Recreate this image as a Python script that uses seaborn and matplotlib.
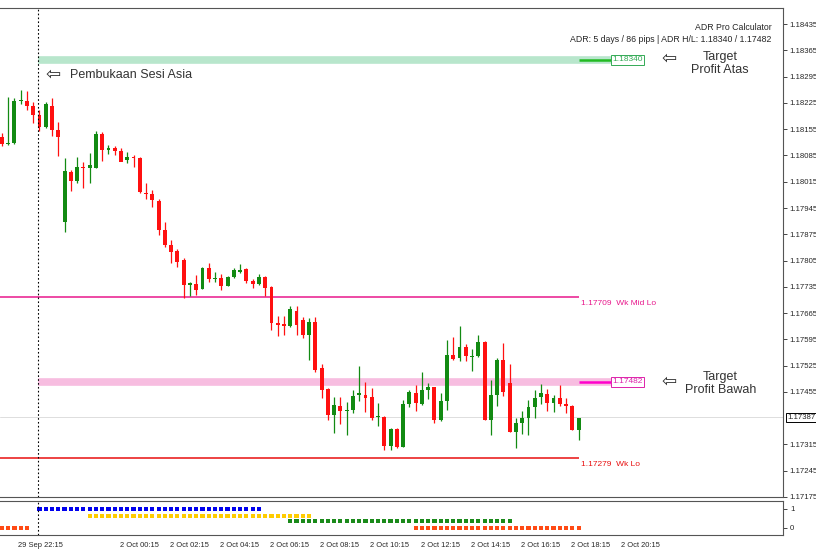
import numpy as np
import pandas as pd
import matplotlib
matplotlib.use("Agg")
import matplotlib.pyplot as plt
import seaborn as sns

# ---- data (prices in 1e-5 units) ----
opens = [118134,118115,118118,118230,118230,118217,118193,118161,118217,118153,
         117908,118041,118017,118054,118051,118051,118142,118099,118105,118097,
         118073,118081,118078,117985,117982,117964,117886,117846,117830,117806,
         117740,117742,117729,117785,117756,117759,117737,117761,117775,117782,
         117750,117742,117761,117734,117639,117636,117631,117671,117646,117607,
         117641,117519,117463,117394,117417,117404,117407,117447,117447,117441,
         117388,117388,117311,117356,117308,117423,117452,117423,117460,117468,
         117380,117431,117553,117545,117575,117548,117551,117588,117380,117447,
         117540,117479,117348,117372,117385,117415,117441,117449,117425,117439,
         117423,117417,117353]
highs = [118145,118241,118238,118259,118257,118227,118206,118227,118238,118174,
         118078,118046,118081,118067,118091,118150,118147,118113,118110,118105,
         118094,118086,118081,118012,117993,117969,117908,117860,117836,117812,
         117748,117766,117788,117798,117775,117769,117764,117785,117796,117785,
         117756,117769,117764,117737,117657,117657,117684,117684,117655,117652,
         117655,117529,117465,117441,117441,117428,117460,117524,117481,117465,
         117425,117391,117359,117359,117433,117460,117473,117508,117479,117468,
         117452,117593,117601,117631,117583,117569,117607,117591,117487,117545,
         117585,117529,117385,117404,117433,117460,117476,117463,117447,117473,
         117439,117420,117385]
lows = [118110,118113,118115,118222,118206,118172,118150,118158,118137,118083,
        117881,117990,118012,117998,118012,118051,118070,118089,118086,118070,
        118065,118054,117985,117969,117948,117873,117841,117798,117788,117706,
        117711,117714,117729,117748,117748,117726,117737,117759,117772,117745,
        117732,117740,117711,117620,117604,117607,117628,117607,117599,117540,
        117508,117439,117380,117346,117369,117340,117399,117431,117401,117380,
        117364,117300,117300,117305,117308,117415,117404,117420,117436,117372,
        117377,117407,117540,117537,117537,117511,117548,117380,117340,117417,
        117444,117348,117305,117343,117340,117385,117423,117404,117401,117417,
        117399,117353,117327]
closes = [118115,118118,118230,118233,118217,118193,118161,118222,118153,118134,
          118043,118017,118054,118051,118059,118142,118099,118105,118097,118067,
          118081,118078,117987,117982,117966,117886,117846,117828,117801,117740,
          117745,117726,117785,117756,117759,117737,117761,117780,117780,117750,
          117742,117761,117732,117639,117633,117631,117676,117633,117607,117641,
          117513,117460,117394,117420,117404,117407,117444,117452,117439,117385,
          117391,117311,117356,117308,117423,117455,117425,117460,117468,117380,
          117431,117553,117543,117575,117551,117551,117588,117380,117447,117540,
          117455,117348,117372,117385,117415,117439,117452,117425,117439,117423,
          117417,117353,117385]

adr_high = 1.18340
adr_low = 1.17482
wk_mid_lo = 1.17709
wk_lo = 1.17279
last_price = 1.17387
asia_open_bar = 5.75

session_start = [6, 14, 46, 66, 0]
session_end = [41, 49, 81, 92, 4]
session_level = [1.0, 0.63, 0.37, 0.0, 0.0]
session_color = ["#0000ee", "#ffcc00", "#1a8a1a", "#ff4a14", "#ff4a14"]

xtick_pos = [2.5] + [18.8 + 8 * k for k in range(11)]
xtick_labels = ["29 Sep 22:15", "2 Oct 00:15", "2 Oct 02:15", "2 Oct 04:15", "2 Oct 06:15",
                "2 Oct 08:15", "2 Oct 10:15", "2 Oct 12:15", "2 Oct 14:15", "2 Oct 16:15",
                "2 Oct 18:15", "2 Oct 20:15"]
ytick_vals = [1.18435 - 0.0007 * k for k in range(19) if k != 15]

df = pd.DataFrame({"o": np.array(opens) / 1e5, "h": np.array(highs) / 1e5,
                   "l": np.array(lows) / 1e5, "c": np.array(closes) / 1e5})
df["i"] = np.arange(len(df))
df["up"] = df["c"] >= df["o"]

sns.set_style("white")
plt.rcParams['font.family'] = ['Liberation Sans', 'DejaVu Sans']

fig = plt.figure(figsize=(8.16, 5.5), dpi=100)
W, H = 816, 550
ax = fig.add_axes([0, 1 - 497 / H, 783 / W, (497 - 8) / H])
ax2 = fig.add_axes([0, 1 - 535 / H, 783 / W, (535 - 501) / H])

GREEN = "#128a12"
RED = "#ff1010"

for _, r in df.iterrows():
    col = GREEN if r["up"] else RED
    ax.vlines(r["i"], r["l"], r["h"], color=col, lw=0.9, zorder=3)
    lo, hi = min(r["o"], r["c"]), max(r["o"], r["c"])
    ax.bar(r["i"], max(hi - lo, 0.000012), bottom=lo, width=0.62, color=col, zorder=4, linewidth=0)

xmax = 124.6
ax.set_xlim(-0.3, xmax)
ax2.set_xlim(-0.3, xmax)
ax.set_ylim(1.17175, 1.18478)

# levels
ax.hlines(adr_high, 5.75, 97.1, color="#b8e6cc", lw=5.5, zorder=1)
ax.hlines(adr_high, 92, 97.1, color="#22bb22", lw=1.8, zorder=2)
ax.hlines(adr_low, 5.75, 97.1, color="#f7bde0", lw=5.5, zorder=1)
ax.hlines(adr_low, 92, 97.1, color="#ff00cc", lw=1.8, zorder=2)
ax.hlines(wk_mid_lo, -1, 92, color="#e8188c", lw=1.1, zorder=2)
ax.hlines(wk_lo, -1, 92, color="#e81010", lw=1.1, zorder=2)
ax.axhline(last_price, color="#dddddd", lw=0.7, zorder=0)

ax.text(97.4, adr_high, "1.18340", fontsize=6, color="#33aa55", va="center",
        bbox=dict(boxstyle="square,pad=0.15", fc="white", ec="#33aa55", lw=0.7))
ax.text(97.4, adr_low, "1.17482", fontsize=6, color="#dd22aa", va="center",
        bbox=dict(boxstyle="square,pad=0.15", fc="white", ec="#dd22aa", lw=0.7))
ax.text(92.4, wk_mid_lo - 0.00018, "1.17709  Wk Mid Lo", fontsize=6, color="#e8188c", va="center")
ax.text(92.4, wk_lo - 0.00018, "1.17279  Wk Lo", fontsize=6, color="#e81010", va="center")

ax.text(122.8, 1.18425, "ADR Pro Calculator", fontsize=6.3, ha="right", va="center")
ax.text(122.8, 1.18393, "ADR: 5 days / 86 pips | ADR H/L: 1.18340 / 1.17482", fontsize=6.3, ha="right", va="center")
ax.text(114.6, 1.18330, "Target\nProfit Atas", fontsize=9, ha="center", va="center", color="#333333", linespacing=1.05)
ax.text(114.6, 1.17477, "Target\nProfit Bawah", fontsize=9, ha="center", va="center", color="#333333", linespacing=1.05)
ax.text(106.5, 1.18343, "⇦", fontsize=13, ha="center", va="center", color="#333333", family="DejaVu Sans")
ax.text(106.5, 1.17482, "⇦", fontsize=13, ha="center", va="center", color="#333333", family="DejaVu Sans")
ax.text(7.0, 1.18300, "⇦", fontsize=13, ha="left", va="center", color="#333333", family="DejaVu Sans")
ax.text(10.9, 1.18300, "Pembukaan Sesi Asia", fontsize=9, ha="left", va="center", color="#333333")

ax.axvline(asia_open_bar, color="black", lw=0.8, ls=(0, (1.5, 2)), zorder=5)
ax2.axvline(asia_open_bar, color="black", lw=0.8, ls=(0, (1.5, 2)), zorder=5)

ax.yaxis.tick_right()
ax.set_yticks(ytick_vals)
ax.set_yticklabels([f"{v:.5f}" for v in ytick_vals], fontsize=5.6)
ax.tick_params(axis="y", length=3, width=0.6, pad=1.5, direction="out", right=True)
ax.set_xticks([])
ax.annotate(f"{last_price:.5f}", xy=(1, last_price), xycoords=("axes fraction", "data"),
            xytext=(3, 0), textcoords="offset points", fontsize=5.6, va="center",
            bbox=dict(boxstyle="square,pad=0.15", fc="white", ec="black", lw=0.7))
for s in ax.spines.values():
    s.set_color("#555555"); s.set_linewidth(0.8)
ax.spines["left"].set_visible(False)

# session indicator
rows = []
for st, en, lv, colr in zip(session_start, session_end, session_level, session_color):
    for b in range(st, en + 1):
        rows.append({"bar": b, "lvl": lv, "col": colr})
sd = pd.DataFrame(rows)
sns.scatterplot(data=sd, x="bar", y="lvl", hue="col", palette={c: c for c in sd["col"].unique()},
                marker="s", s=9, linewidth=0, legend=False, ax=ax2)
ax2.set_ylim(-0.37, 1.42)
ax2.yaxis.tick_right()
ax2.set_yticks([0, 1])
ax2.set_yticklabels(["0", "1"], fontsize=5.6)
ax2.tick_params(axis="y", length=3, width=0.6, pad=2)
ax2.set_xlabel(""); ax2.set_ylabel("")
ax2.set_xticks(xtick_pos)
ax2.set_xticklabels(xtick_labels, fontsize=5.4, ha="left")
ax2.tick_params(axis="x", length=3, width=0.6, pad=2)
for s in ax2.spines.values():
    s.set_color("#555555"); s.set_linewidth(0.8)
ax2.spines["left"].set_visible(False)

fig.savefig("out.png", dpi=100)
